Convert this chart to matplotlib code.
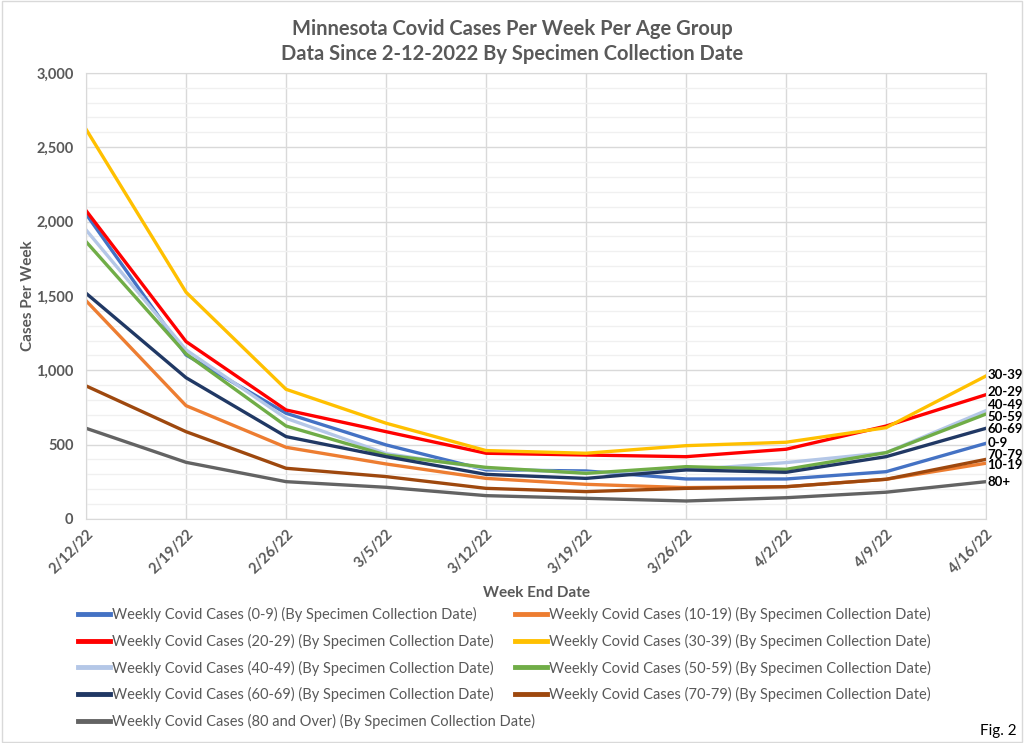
import matplotlib.pyplot as plt
import numpy as np
from matplotlib.ticker import MultipleLocator, FuncFormatter
from matplotlib.patches import Rectangle

plt.rcParams['font.family'] = ['Lato', 'DejaVu Sans']

weeks = ['2/12/22', '2/19/22', '2/26/22', '3/5/22', '3/12/22',
         '3/19/22', '3/26/22', '4/2/22', '4/9/22', '4/16/22']

age_0_9 = [2051, 1103, 711, 498, 330, 323, 269, 269, 318, 509]
age_10_19 = [1468, 762, 482, 370, 273, 233, 211, 217, 267, 375]
age_20_29 = [2074, 1193, 733, 587, 442, 430, 419, 469, 625, 836]
age_30_39 = [2621, 1525, 872, 644, 460, 442, 493, 516, 614, 962]
age_40_49 = [1944, 1137, 677, 440, 340, 310, 330, 379, 446, 729]
age_50_59 = [1865, 1110, 625, 430, 347, 307, 352, 334, 446, 706]
age_60_69 = [1518, 950, 554, 419, 300, 273, 330, 314, 419, 610]
age_70_79 = [895, 587, 341, 285, 206, 184, 206, 217, 267, 401]
age_80_up = [610, 381, 251, 213, 157, 139, 121, 143, 180, 251]

groups = ['0-9', '10-19', '20-29', '30-39', '40-49', '50-59', '60-69', '70-79', '80 and Over']
short = ['0-9', '10-19', '20-29', '30-39', '40-49', '50-59', '60-69', '70-79', '80+']
series = [age_0_9, age_10_19, age_20_29, age_30_39, age_40_49,
          age_50_59, age_60_69, age_70_79, age_80_up]
colors = ['#4472C4', '#ED7D31', '#FF0000', '#FFC000', '#B4C7E7',
          '#70AD47', '#203864', '#9E480E', '#636363']
# where the end labels sit (cases), nudged apart so they stack like the original
label_y = [511, 363, 854, 969, 767, 686, 605, 430, 249]

grey = '#595959'

fig = plt.figure(figsize=(10.24, 7.43), dpi=100)
ax = fig.add_axes([0.084, 0.3015, 0.879, 0.6005])

x = np.arange(len(weeks))
lines = []
for i in range(len(series)):
    ln, = ax.plot(x, series[i], color=colors[i], lw=2.4, solid_joinstyle='round',
                  label='Weekly Covid Cases (%s) (By Specimen Collection Date)' % groups[i])
    lines.append(ln)
    ax.text(x[-1] + 0.015, label_y[i], short[i], fontsize=9.5, fontweight='bold',
            color='black', va='center', ha='left')

ax.set_xlim(0, len(weeks) - 1)
ax.set_ylim(0, 3000)
ax.yaxis.set_major_locator(MultipleLocator(500))
ax.yaxis.set_minor_locator(MultipleLocator(100))
ax.yaxis.set_major_formatter(FuncFormatter(lambda v, p: '{:,.0f}'.format(v)))
ax.set_xticks(x)
ax.set_xticklabels(weeks, rotation=45, ha='right', rotation_mode='anchor')
for t in ax.get_xticklabels() + ax.get_yticklabels():
    t.set_fontweight('bold')
ax.grid(True, which='major', color='#d9d9d9', lw=1)
ax.grid(True, which='minor', axis='y', color='#f0f0f0', lw=1)
ax.set_axisbelow(True)
for s in ax.spines.values():
    s.set_color('#d9d9d9')
ax.tick_params(which='both', length=0, colors=grey, labelsize=10.5)
ax.tick_params(axis='x', pad=6)
ax.tick_params(axis='y', pad=9)

ax.set_ylabel('Cases Per Week', fontsize=11, fontweight='bold', color=grey)
ax.yaxis.set_label_coords(-0.057, 0.5)
ax.set_xlabel('Week End Date', fontsize=11, fontweight='bold', color=grey, va='center')
ax.xaxis.set_label_coords(0.5, -0.166)
fig.text(0.5, 0.944, 'Minnesota Covid Cases Per Week Per Age Group\nData Since 2-12-2022 By Specimen Collection Date',
         fontsize=14.5, fontweight='bold', color=grey, ha='center', va='center', linespacing=1.3)

# two legend columns, placed separately like the Excel layout
left = [0, 2, 4, 6, 8]
right = [1, 3, 5, 7]
for idx, xpos in [(left, 78 / 1024), (right, 515 / 1024)]:
    leg = fig.legend([lines[i] for i in idx], [lines[i].get_label() for i in idx],
                     loc='upper left', bbox_to_anchor=(xpos, 1 - 607 / 743), frameon=False,
                     fontsize=10.5, handlelength=2.2, handletextpad=0.15, borderpad=0,
                     borderaxespad=0, labelspacing=0.8)
    for t in leg.get_texts():
        t.set_color(grey)
    for h in leg.get_lines():
        h.set_linewidth(3.5)

fig.text(0.993, 0.016, 'Fig. 2', fontsize=11, color='black', ha='right', va='center')
fig.patches.append(Rectangle((0.002, 0.002), 0.996, 0.996, transform=fig.transFigure,
                             fill=False, edgecolor='#d9d9d9', lw=1))

fig.savefig('out.png', dpi=100)
